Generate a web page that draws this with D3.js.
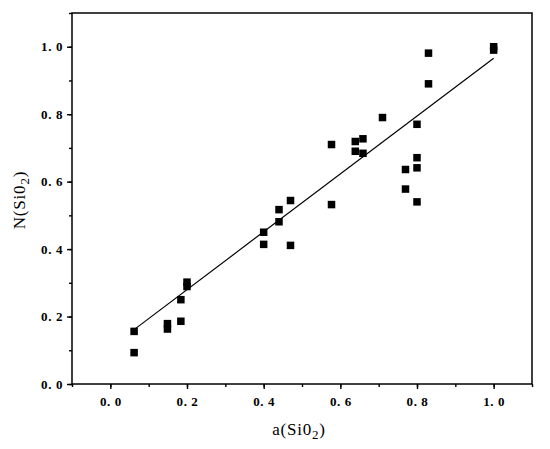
<!DOCTYPE html>
<html>
<head>
<meta charset="utf-8">
<script src="https://cdn.jsdelivr.net/npm/d3@7"></script>
<style>
  body { margin: 0; background: #fff; }
  text { font-family: "Liberation Serif", "DejaVu Serif", serif; fill: #000; }
</style>
</head>
<body>
<svg id="chart" width="550" height="449"></svg>
<script>
// a(SiO2) values
var aSiO2 = [0.062, 0.062, 0.149, 0.149, 0.184, 0.184, 0.200, 0.200,
             0.400, 0.400, 0.440, 0.440, 0.470, 0.470, 0.577, 0.577,
             0.639, 0.639, 0.659, 0.659, 0.710, 0.770, 0.770,
             0.800, 0.800, 0.800, 0.800, 0.830, 0.830, 1.000, 1.000];
// N(SiO2) values
var nSiO2 = [0.156, 0.093, 0.179, 0.163, 0.186, 0.250, 0.302, 0.289,
             0.450, 0.414, 0.481, 0.517, 0.544, 0.411, 0.710, 0.532,
             0.719, 0.690, 0.727, 0.684, 0.790, 0.636, 0.578,
             0.770, 0.671, 0.641, 0.540, 0.981, 0.890, 1.000, 0.990];
// fitted line
var fitSlope = 0.858, fitIntercept = 0.108;
var xTicks = [0.0, 0.2, 0.4, 0.6, 0.8, 1.0];
var yTicks = [0.0, 0.2, 0.4, 0.6, 0.8, 1.0];

var svg = d3.select("#chart");
var margin = {left: 72, right: 18, top: 13, bottom: 65};
var W = 550 - margin.left - margin.right,
    H = 449 - margin.top - margin.bottom;

var x = d3.scaleLinear().domain([-0.1, 1.1]).range([0, W]);
var y = d3.scaleLinear().domain([0, 1.1]).range([H, 0]);

var g = svg.append("g").attr("transform", "translate(" + margin.left + "," + margin.top + ")");

var fmt = function(d) { return d3.format(".1f")(d).replace(".", ". "); };

// minor ticks
g.append("g").attr("transform", "translate(0," + H + ")")
    .call(d3.axisBottom(x).tickValues(d3.range(-0.1, 1.11, 0.1)).tickSize(3).tickFormat(""))
    .call(function(s) { s.select(".domain").remove(); });
g.append("g")
    .call(d3.axisLeft(y).tickValues(d3.range(0, 1.11, 0.1)).tickSize(3).tickFormat(""))
    .call(function(s) { s.select(".domain").remove(); });

// major ticks + labels
var xAxis = g.append("g").attr("transform", "translate(0," + H + ")")
    .call(d3.axisBottom(x).tickValues(xTicks).tickSize(5).tickPadding(8).tickFormat(fmt));
var yAxis = g.append("g")
    .call(d3.axisLeft(y).tickValues(yTicks).tickSize(5).tickPadding(4).tickFormat(fmt));

[xAxis, yAxis].forEach(function(a) {
    a.select(".domain").remove();
    a.selectAll("text").style("font-size", "13px").style("font-weight", "bold")
        .style("letter-spacing", "0.6px")
        .style("font-family", "'Liberation Serif', serif");
});
g.selectAll(".tick line").attr("stroke", "#000").attr("stroke-width", 1.4);

// frame
g.append("rect").attr("width", W).attr("height", H)
    .attr("fill", "none").attr("stroke", "#000").attr("stroke-width", 1.5);

// fit line
var xMin = d3.min(aSiO2), xMax = d3.max(aSiO2);
g.append("line")
    .attr("x1", x(xMin)).attr("y1", y(fitIntercept + fitSlope * xMin))
    .attr("x2", x(xMax)).attr("y2", y(fitIntercept + fitSlope * xMax))
    .attr("stroke", "#000").attr("stroke-width", 1.2);

// points
var sz = 7.5;
g.selectAll("rect.pt").data(aSiO2).enter().append("rect")
    .attr("class", "pt")
    .attr("x", function(d) { return x(d) - sz / 2; })
    .attr("y", function(d, i) { return y(nSiO2[i]) - sz / 2; })
    .attr("width", sz).attr("height", sz)
    .attr("fill", "#000");

// axis titles
function title(sel, lead) {
    sel.style("font-size", "17px").style("letter-spacing", "0.8px");
    sel.append("tspan").text(lead + "(Si0");
    sel.append("tspan").attr("dy", 4).style("font-size", "13px").text("2");
    sel.append("tspan").attr("dy", -4).text(")");
}
svg.append("text")
    .attr("x", margin.left + W / 2 - 3).attr("y", 435)
    .attr("text-anchor", "middle").call(title, "a");

svg.append("text")
    .attr("transform", "translate(25," + (margin.top + 187) + ") rotate(-90)")
    .attr("text-anchor", "middle").call(title, "N");
</script>
</body>
</html>
